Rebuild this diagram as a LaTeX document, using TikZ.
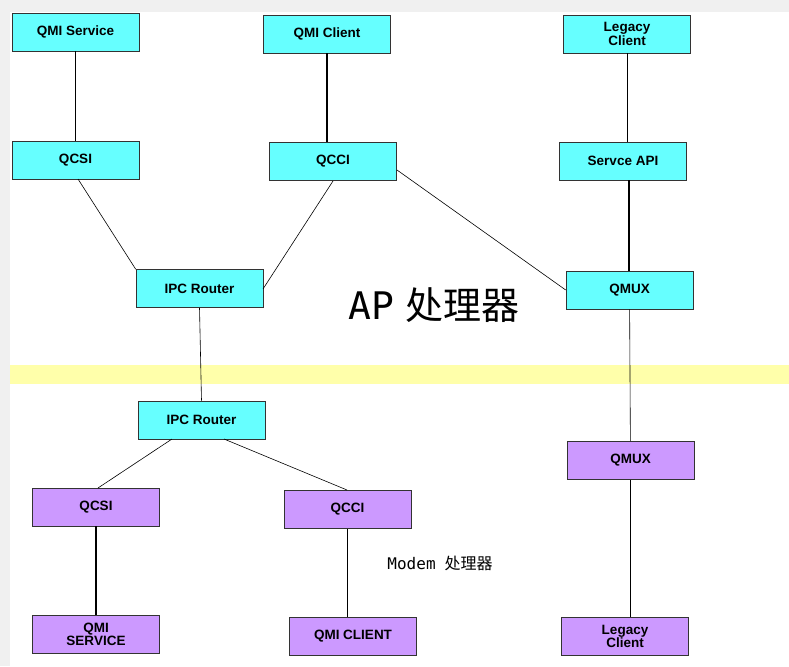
\documentclass[tikz,border=0pt]{standalone}
\usepackage{fontspec}
\setmainfont{Liberation Sans}
\newfontfamily\cjk{Noto Sans CJK SC}
\newfontfamily\mono{DejaVu Sans Mono}
\definecolor{band}{RGB}{255,255,170}
\definecolor{purp}{RGB}{204,153,255}
\definecolor{cyn}{RGB}{102,255,255}
\begin{document}
\begin{tikzpicture}[x=1pt,y=-1pt,
 box/.style={draw=black!80,line width=0.6pt,minimum width=127pt,minimum height=38pt,inner sep=0pt,align=center,font=\fontsize{13.5}{12}\selectfont\bfseries},
 cy/.style={box,fill=cyn},
 pu/.style={box,fill=purp},
 ln/.style={line width=0.6pt},
 lt/.style={line width=1.1pt}]
\useasboundingbox (0,0) rectangle (789,666);
\fill[black!6] (0,0) rectangle (789,666);
\fill[white] (10,12) rectangle (789,666);
\fill[band] (10,365) rectangle (789,384);
\node[cy] (qs) at (75.5,32) {QMI Service};
\node[cy] (qc) at (327,34) {QMI Client};
\node[cy] (lc) at (627,34) {Legacy\\Client};
\node[cy] (qcsi) at (75.5,160) {QCSI};
\node[cy] (qcci) at (333,161.5) {QCCI};
\node[cy] (api) at (623,161) {Servce API};
\node[cy] (ipc) at (199.5,288.5) {IPC Router};
\node[cy] (qmux) at (629.5,290) {QMUX};
\node[cy] (ipc2) at (201.5,420) {IPC Router};
\node[pu] (qmux2) at (630.5,460.5) {QMUX};
\node[pu] (qcsi2) at (96,507) {QCSI};
\node[pu] (qcci2) at (347.5,509.5) {QCCI};
\node[pu] (qms) at (96,634) {QMI\\SERVICE};
\node[pu] (qmc) at (353,636.5) {QMI CLIENT};
\node[pu] (lc2) at (625,636.5) {Legacy\\Client};
\draw[ln] (qs) -- (qcsi);
\draw[lt] (qc) -- (qcci.north -| qc);
\draw[ln] (lc) -- (api.north -| lc);
\draw[ln] (78,179) -- (ipc.north west);
\draw[ln] (333,181) -- (263,289);
\draw[ln] (397,170) -- (qmux.west);
\draw[lt] (629,180) -- (629,271);
\draw[ln] (ipc.south) -- (ipc2.north);
\draw[ln] (qmux) -- (qmux2);
\draw[ln] (172,439) -- (98,488);
\draw[ln] (224,439) -- (347,490);
\draw[lt] (qcsi2) -- (qms);
\draw[lt] (qcci2) -- (qcci2.south |- qmc.north);
\draw[lt] (qmux2) -- (qmux2.south |- lc2.north);
\node[font=\fontsize{38}{40}\selectfont] (ap) at (434,305) {{\mono AP} {\cjk 处理器}};
\node[font=\fontsize{16}{18}\selectfont] (md) at (440,563) {{\mono Modem} \ {\cjk 处理器}};
\end{tikzpicture}
\end{document}
